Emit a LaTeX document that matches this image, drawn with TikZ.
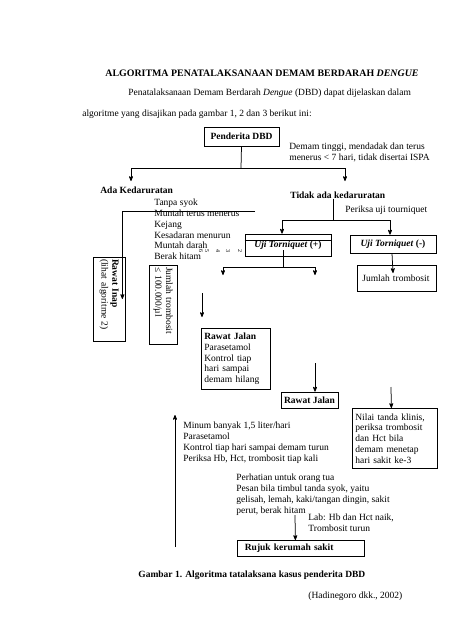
\documentclass[tikz,border=0pt]{standalone}
\usepackage{fontspec}
\setmainfont{Liberation Serif}
\usetikzlibrary{arrows,positioning}

\begin{document}
\begin{tikzpicture}[x=1pt,y=-1pt,->,>=stealth',line width=0.75pt,
    every node/.style={font=\fontsize{9.5}{10.7}\selectfont},
    teks/.style={inner sep=0pt,align=left},
    kotak/.style={draw,-,inner sep=2pt},
    judul/.style={inner sep=0pt,font=\fontsize{9.5}{11}\selectfont\bfseries}]
        \useasboundingbox[fill=white] (0,0) rectangle (474,632);

        % header
        \node[judul,anchor=west,font=\fontsize{9.9}{11}\selectfont\bfseries] (title) at (105,73) {ALGORITMA PENATALAKSANAAN DEMAM BERDARAH \textit{DENGUE}};
        \node[teks,anchor=west] (para1) at (128,93) {Penatalaksanaan Demam Berdarah \textit{Dengue} (DBD) dapat dijelaskan dalam};
        \node[teks,anchor=west] (para2) at (82,114) {algoritme yang disajikan pada gambar 1, 2 dan 3 berikut ini:};

        % top
        \node[kotak,minimum width=75,minimum height=19,font=\fontsize{9.5}{10.7}\selectfont\bfseries] (pend) at (241.5,136.5) {Penderita DBD};
        \node[teks,anchor=north west] (demam) at (289,143) {Demam tinggi, mendadak dan terus\\menerus < 7 hari, tidak disertai ISPA};
        \coordinate (c1) at (241,168);
        \coordinate (kiri) at (131,181);
        \coordinate (kanan) at (345,181);
        \draw[-] (pend.south) -- (c1);
        \draw (c1) -| (kiri);
        \draw (c1) -| (kanan);

        \node[judul,anchor=west] (ada) at (100,190) {Ada Kedaruratan};
        \node[judul,anchor=west] (tidak) at (290,195) {Tidak ada kedaruratan};

        % ada kedaruratan
        \node[teks,anchor=north west] (gejala) at (154,199) {Tanpa syok\\Muntah terus menerus\\Kejang\\Kesadaran menurun\\Muntah darah\\Berak hitam};
        \node[kotak,rotate=-90,minimum width=84,minimum height=32,text width=80,align=left] (inap) at (109,299)
            {\textbf{Rawat Inap}\\(lihat algoritme 2)};
        \node[kotak,rotate=-90,minimum width=79,minimum height=28,text width=75,align=left] (trombo) at (163,304.5)
            {Jumlah trombosit\\≤ 100.000/µl};
        \coordinate (g1) at (255,211);
        \draw (g1) -| ([xshift=-3pt]inap.north);
        \foreach \n/\xx in {6/201,5/207,4/218,3/228,2/240}
            \node[inner sep=0pt,rotate=-90,font=\fontsize{6}{6}\selectfont] (no\n) at (\xx,251) {\n};

        % tidak ada kedaruratan
        \node[teks,anchor=west] (periksa) at (345,210) {Periksa uji tourniquet};
        \node[kotak,minimum width=86,minimum height=22,font=\fontsize{9.5}{10.7}\selectfont\bfseries] (ujiplus) at (288,245)
            {\raisebox{-3pt}{\textit{Uji Torniquet} (+)}};
        \draw[-] ([yshift=-7pt]ujiplus.north west) -- ([yshift=-7pt]ujiplus.north east);
        \node[kotak,minimum width=86,minimum height=18,font=\fontsize{9.5}{10.7}\selectfont\bfseries] (ujimin) at (393,244)
            {\raisebox{-3pt}{\textit{Uji Torniquet} (-)}};
        \coordinate (c2) at (333,220);
        \draw[-] (tidak.south -| c2) -- (c2);
        \draw (c2) -| ([xshift=-6pt]ujiplus.north);
        \draw (c2) -| ([xshift=-3pt]ujimin.north);

        \node[kotak,anchor=north west,minimum width=79,minimum height=26,text width=75,align=left] (jumlah) at (357,265)
            {\hspace*{3pt}Jumlah trombosit};
        \draw ([xshift=-1pt]ujimin.south) -- ([yshift=-8pt]jumlah.north -| ujimin.south);

        \coordinate (c3) at (283,267);
        \coordinate (a1) at (223,275);
        \coordinate (a2) at (315,275);
        \draw[-] ([xshift=-5pt,yshift=6pt]ujiplus.south) -- (c3);
        \draw (c3) -| (a1);
        \draw (c3) -| (a2);

        % rawat jalan
        \coordinate (p1) at (202,293);
        \coordinate (p2) at (202,317);
        \draw (p1) -- (p2);
        \node[kotak,anchor=north west,minimum width=69,minimum height=61,text width=63,align=left,inner sep=3pt] (jalan1) at (201,328)
            {\textbf{Rawat Jalan}\\Parasetamol\\Kontrol tiap\\hari sampai\\demam hilang};
        \coordinate (p3) at (315,363);
        \node[kotak,minimum width=57,minimum height=16,font=\fontsize{9.5}{10.7}\selectfont\bfseries] (jalan2) at (309.5,400) {Rawat Jalan};
        \draw (p3) -- ([xshift=5.5pt]jalan2.north);
        \coordinate (p4) at (391,387);
        \node[kotak,anchor=north west,minimum width=85,minimum height=60,text width=79,align=left,inner sep=3pt] (nilai) at (352,408)
            {Nilai tanda klinis,\\periksa trombosit\\dan Hct bila\\demam menetap\\hari sakit ke-3};
        \draw (p4) -- ([xshift=-3.5pt]nilai.north);

        % bawah
        \node[teks,anchor=north west] (minum) at (183,422) {Minum banyak 1,5 liter/hari\\Parasetamol\\Kontrol tiap hari sampai demam turun\\Periksa Hb, Hct, trombosit tiap kali};
        \coordinate (u1) at (175,547);
        \coordinate (u2) at (175,415);
        \draw (u1) -- (u2);
        \node[teks,anchor=north west] (perhatian) at (236,474) {Perhatian untuk orang tua\\Pesan bila timbul tanda syok, yaitu\\gelisah, lemah, kaki/tangan dingin, sakit\\perut, berak hitam};
        \node[teks,anchor=north west] (lab) at (308,514) {Lab: Hb dan Hct naik,\\Trombosit turun};
        \node[kotak,anchor=north west,minimum width=127,minimum height=16,text width=120,align=left,inner sep=3pt,font=\fontsize{9.5}{10.7}\selectfont\bfseries] (rujuk) at (237,540)
            {\hspace*{4pt}Rujuk kerumah sakit};
        \coordinate (p5) at (295,515);
        \draw (p5) -- ([xshift=-5.5pt]rujuk.north);

        \node[judul,anchor=west] (gambar) at (138,575) {Gambar 1. Algoritma tatalaksana kasus penderita DBD};
        \node[teks,anchor=west] (sumber) at (308,596) {(Hadinegoro dkk., 2002)};
    \end{tikzpicture}
\end{document}
